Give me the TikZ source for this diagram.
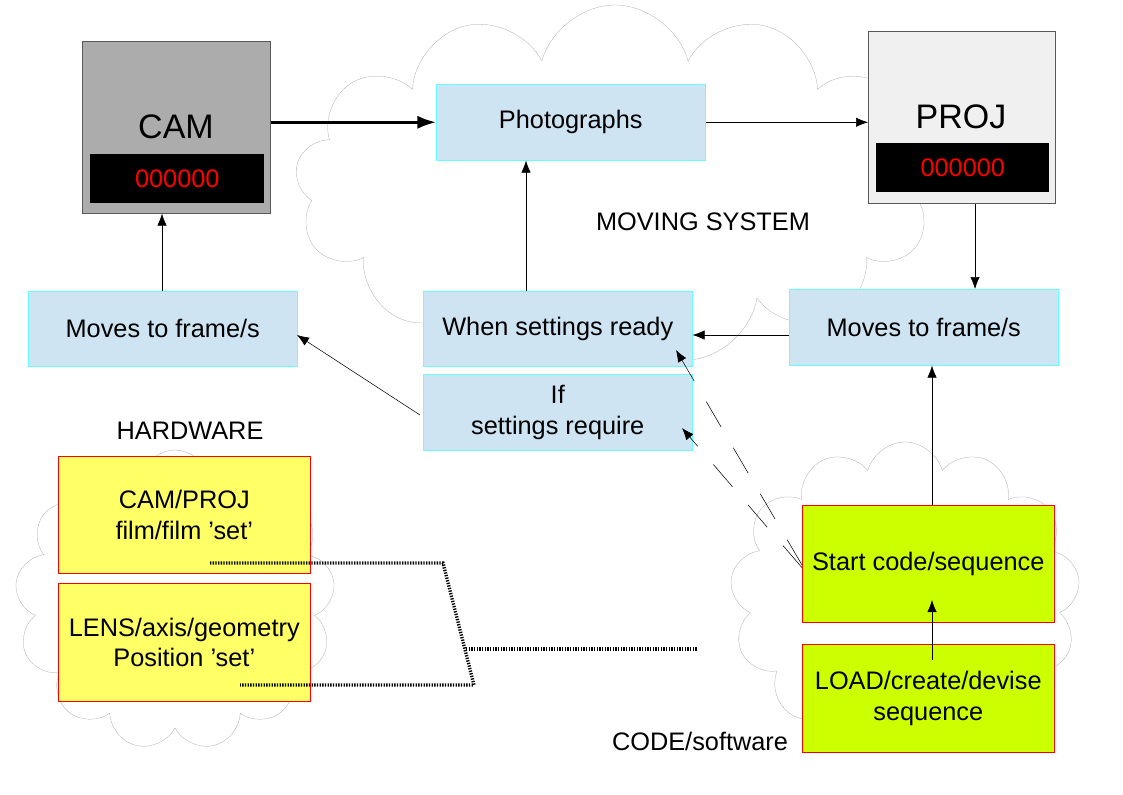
\documentclass[tikz,border=0pt]{standalone}
\usepackage{fontspec}
\setmainfont{Liberation Sans}
\usetikzlibrary{shapes.symbols,arrows.meta}
\definecolor{lb}{HTML}{CFE4F2}
\definecolor{cy}{HTML}{66FFFF}
\definecolor{yl}{HTML}{FFFF66}
\definecolor{gr}{HTML}{CCFF00}
\begin{document}
\begin{tikzpicture}[x=0.75pt,y=-0.75pt,
 sz/.style 2 args={minimum width=#1*0.75pt,minimum height=#2*0.75pt},
 cl/.style={cloud,cloud puffs=13,aspect=1.8,draw=gray!70,very thin,fill=white,inner sep=0},
 bl/.style={draw=cy,fill=lb,anchor=north west,font=\fontsize{19}{23}\selectfont,align=center,inner sep=0},
 yb/.style={draw=red,fill=yl,anchor=north west,font=\fontsize{19}{23}\selectfont,align=center,inner sep=0},
 gb/.style={draw=red,fill=gr,anchor=north west,font=\fontsize{19}{23}\selectfont,align=center,inner sep=0},
 ar/.style={-{Latex[length=9pt,width=7pt]},thin},
 lbl/.style={font=\fontsize{19}{23}\selectfont}]
\useasboundingbox (0,0) rectangle (1123,794);
\node[cl,sz={640}{360}] (c1) at (615,185) {};
\node[cl,sz={320}{300}] (c2) at (175,600) {};
\node[cl,sz={350}{310}] (c3) at (905,597) {};
\node[draw=gray!70!black,fill=gray!65,anchor=north west,sz={188}{172},inner sep=0] (cam) at (82,41) {};
\node[font=\fontsize{25.5}{30}\selectfont] at (176,127) {CAM};
\node[fill=black,anchor=north west,sz={174}{49},inner sep=0,text=red,font=\fontsize{19}{23}\selectfont] (camc) at (90,154) {000000};
\node[draw=gray!70!black,fill=gray!12,anchor=north west,sz={187}{172},inner sep=0] (proj) at (868,31) {};
\node[font=\fontsize{25.5}{30}\selectfont] at (961,117) {PROJ};
\node[fill=black,anchor=north west,sz={173}{49},inner sep=0,text=red,font=\fontsize{19}{23}\selectfont] (projc) at (876,143) {000000};
\node[bl,sz={269}{76}] (ph) at (436,84) {Photographs};
\node[bl,sz={269}{75}] (ml) at (28,291) {Moves to frame/s};
\node[bl,sz={269}{75}] (wr) at (423,291) {When settings ready};
\node[bl,sz={269}{76}] (ir) at (423,374) {If\\settings require};
\node[bl,sz={269}{76}] (mr) at (789,289) {Moves to frame/s};
\node[yb,sz={252}{117}] (y1) at (58,456) {CAM/PROJ\\film/film 'set'};
\node[yb,sz={252}{118}] (y2) at (58,583) {LENS/axis/geometry\\Position 'set'};
\node[gb,sz={252}{117}] (g1) at (802,505) {Start code/sequence};
\node[gb,sz={252}{108}] (g2) at (802,644) {LOAD/create/devise\\sequence};
\node[lbl] (t1) at (703,222) {MOVING SYSTEM};
\node[lbl] (t2) at (190,431) {HARDWARE};
\node[lbl] (t3) at (700,741) {CODE/software};
\draw[ar,line width=2pt,-{Latex[length=14pt,width=10pt]}] (cam.east|-ph) -- (ph);
\draw[ar] (ph.east) -- (ph.east-|proj.west);
\draw[ar] (proj.south-|975,0) -- (mr.north-|975,0);
\draw[ar] (mr.west|-0,335) -- (wr.east|-0,335);
\draw[ar] (wr.north-|526,0) -- (ph.south-|526,0);
\draw[ar] (ml.north-|162,0) -- (cam.south-|162,0);
\coordinate (a1) at (420,415);
\draw[ar] (a1) -- (297,335);
\draw[ar] (g1.north-|932,0) -- (mr.south-|932,0);
\draw[ar] (932,660) -- (932,600);
\coordinate (d) at (802,565);
\draw[ar,dash pattern=on 22pt off 18pt] (d) -- (676,350);
\draw[ar,dash pattern=on 22pt off 18pt] ([yshift=-2]d) -- (682,428);
\coordinate (p1) at (443,563); \coordinate (p2) at (474,685);
\draw[line width=2.5pt,dash pattern=on 1pt off 1pt] (210,563) -- (p1) -- (p2) -- (240,685);
\draw[line width=2.5pt,dash pattern=on 1pt off 1pt] (466,649) -- (698,649);
\end{tikzpicture}
\end{document}
